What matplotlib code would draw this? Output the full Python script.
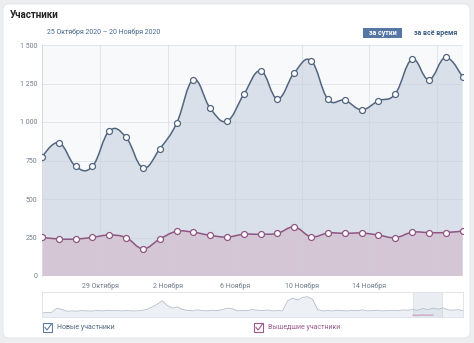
import numpy as np
import pandas as pd
import matplotlib
matplotlib.use('Agg')
import matplotlib.pyplot as plt
import matplotlib.dates as mdates
from matplotlib.path import Path
from matplotlib.patches import PathPatch, FancyBboxPatch, Rectangle
from matplotlib.transforms import IdentityTransform

plt.rcParams['font.family'] = ['Roboto', 'DejaVu Sans']

# daily values, 25 Oct - 19 Nov 2020
new_members = [771, 866, 712, 712, 942, 900, 703, 825, 991, 1275, 1089, 1006,
               1180, 1333, 1151, 1320, 1398, 1147, 1141, 1080, 1138, 1182,
               1407, 1275, 1420, 1290]
left_members = [251, 240, 240, 251, 266, 249, 177, 240, 290, 284, 264, 253,
                271, 271, 277, 318, 255, 279, 277, 279, 266, 249, 284, 282,
                282, 292]
start_time = '2020-10-25 12:45'
tick_dates = ['2020-10-29', '2020-11-02', '2020-11-06', '2020-11-10',
              '2020-11-14', '2020-11-18']
tick_labels = ['29 Октября', '2 Ноября', '6 Ноября', '10 Ноября', '14 Ноября', '']
y_ticks = [0, 250, 500, 750, 1000, 1250, 1500]

# navigator: whole history, coarse
nav_values = [600, 650, 700, 1300, 1100, 850, 900, 870, 950, 900, 880, 960,
              900, 1000, 920, 980, 900, 950, 880, 920, 980, 1150, 1500, 1900,
              2400, 1700, 1300, 1500, 1100, 1000, 900, 1050, 950, 900, 1000,
              950, 1100, 1300, 1200, 900, 1000, 950, 1100, 1000, 950, 1050,
              900, 950, 900, 2400, 2800, 2500, 2900, 3000, 2600, 1100, 900,
              950, 900, 1000, 950, 900, 1000, 950, 1050, 900, 950, 1000, 900,
              950, 1000, 950, 1050, 1000, 1100, 1000, 1250, 1100, 1300, 1150,
              1350, 1050, 1000, 1100, 950]
nav_left = [280, 260, 300, 270, 290]
nav_left_start = 74
nav_window = (74.0, 79.8)

BLUE = '#52667f'
BLUE_FILL = '#d9e0e9'
RED = '#8f5682'
RED_FILL = '#d5c6d6'
TICK = '#6f7c8b'


def spline_path(x, y):
    # smooth curve through the points: control points at 0.4 of the step,
    # tangent parallel to the neighbours' chord
    x = np.asarray(x, float)
    y = np.asarray(y, float)
    n = len(x)
    lc = np.column_stack([x, y])
    rc = lc.copy()
    for i in range(1, n - 1):
        m = (y[i + 1] - y[i - 1]) / (x[i + 1] - x[i - 1])
        dl = (x[i] - x[i - 1]) / 2.5
        dr = (x[i + 1] - x[i]) / 2.5
        lc[i] = x[i] - dl, y[i] - m * dl
        rc[i] = x[i] + dr, y[i] + m * dr
    verts = [(x[0], y[0])]
    codes = [Path.MOVETO]
    for i in range(1, n):
        verts += [rc[i - 1], lc[i], (x[i], y[i])]
        codes += [Path.CURVE4] * 3
    return np.array(verts), codes


def draw_series(ax, x, y, line_c, fill_c, z):
    verts, codes = spline_path(x, y)
    fv = np.vstack([verts, [[x[-1], 0], [x[0], 0], [x[0], 0]]])
    fc = codes + [Path.LINETO, Path.LINETO, Path.CLOSEPOLY]
    ax.add_patch(PathPatch(Path(fv, fc), facecolor=fill_c, edgecolor='none', zorder=z))
    ax.add_patch(PathPatch(Path(verts, codes), facecolor='none', edgecolor=line_c,
                           lw=1.1, zorder=z + 3))
    ax.plot(x, y, 'o', ms=4.3, mfc='white', mec=line_c, mew=0.9, zorder=z + 4)


W, H = 474, 343
fig = plt.figure(figsize=(W / 100, H / 100), dpi=100)
fig.patch.set_facecolor('#edeef0')

card = FancyBboxPatch((3, H - 338), 467, 334, boxstyle='round,pad=0,rounding_size=6',
                      transform=IdentityTransform(), facecolor='white',
                      edgecolor='#dfe3e8', lw=0.6, zorder=-5)
fig.patches.append(card)

def fx(px):
    return px / W

def fy(py):
    return 1 - py / H

ax = fig.add_axes([fx(42), fy(276), fx(462.5) - fx(42), (276 - 45) / H])
x = mdates.date2num(pd.date_range(start_time, periods=len(new_members), freq='D'))
ax.set_xlim(x[0], x[-1])
ax.set_ylim(0, 1500)
ax.set_facecolor('#f8f9fb')

draw_series(ax, x, new_members, BLUE, BLUE_FILL, 1)
draw_series(ax, x, left_members, RED, RED_FILL, 1.5)

ax.set_axisbelow(False)
ax.grid(True, color='#c9d0d8', lw=0.6, alpha=0.55, zorder=2.5)
ax.set_yticks(y_ticks)
ax.set_yticklabels([f'{v:,}'.replace(',', ' ') for v in y_ticks])
ax.set_xticks(mdates.date2num(pd.to_datetime(tick_dates)))
ax.set_xticklabels(tick_labels)
ax.tick_params(length=0, labelsize=5, colors=TICK)
ax.tick_params(axis='y', pad=3.5)
ax.tick_params(axis='x', pad=4.5)
for s in ['top', 'right', 'bottom']:
    ax.spines[s].set_visible(False)
ax.spines['left'].set_color('#d5dbe2')
ax.spines['left'].set_linewidth(0.7)

# navigator
nav = fig.add_axes([fx(42), fy(317), fx(463) - fx(42), (317 - 292) / H])
nx = np.arange(len(nav_values))
nav.fill_between(nx, nav_values, color='#edf1f6', lw=0)
nav.plot(nx, nav_values, color='#b3bdc9', lw=0.6)
nl = np.arange(nav_left_start, nav_left_start + len(nav_left))
nav.plot(nl, nav_left, color='#c58fb3', lw=0.7)
nav.add_patch(Rectangle((nav_window[0], 0), nav_window[1] - nav_window[0], 3700,
                        facecolor='#c5cfdc', alpha=0.35, edgecolor='#aeb8c4', lw=0.6))
nav.set_xlim(0, len(nav_values) - 1)
nav.set_ylim(0, 3700)
nav.set_xticks([])
nav.set_yticks([])
for s in nav.spines.values():
    s.set_color('#dde2e8')
    s.set_linewidth(0.6)

# header
fig.text(fx(10), fy(15), 'Участники', fontsize=7, fontweight='bold',
         color='#222222', va='center')
fig.text(fx(47), fy(32), '25 Октября 2020 – 20 Ноября 2020', fontsize=5,
         color='#45678f', va='center')
fig.patches.append(Rectangle((fx(363), fy(38)), fx(402) - fx(363), 10 / H,
                             transform=fig.transFigure, facecolor='#5677a3',
                             edgecolor='none'))
fig.text(fx(382.5), fy(33), 'за сутки', fontsize=5, fontweight='bold',
         color='white', ha='center', va='center')
fig.text(fx(435.5), fy(33), 'за всё время', fontsize=5, fontweight='bold',
         color='#3d5c84', ha='center', va='center')

# legend checkboxes
def checkbox(px, py, color, label, tcolor):
    fig.patches.append(Rectangle((fx(px), fy(py + 9)), 9 / W, 9 / H,
                                 transform=fig.transFigure, facecolor='white',
                                 edgecolor=color, lw=0.8))
    fig.lines.append(plt.Line2D([fx(px + 2), fx(px + 4), fx(px + 8.5)],
                                [fy(py + 4.5), fy(py + 7), fy(py + 1)],
                                transform=fig.transFigure, color=color, lw=0.8))
    fig.text(fx(px + 14), fy(py + 4.5), label, fontsize=5, color=tcolor,
             va='center')

checkbox(43, 323, '#5f7ca2', 'Новые участники', '#56687e')
checkbox(254, 323, '#9c5a8c', 'Вышедшие участники', '#9a5a8b')

fig.savefig('out.png', dpi=100, facecolor=fig.get_facecolor())
